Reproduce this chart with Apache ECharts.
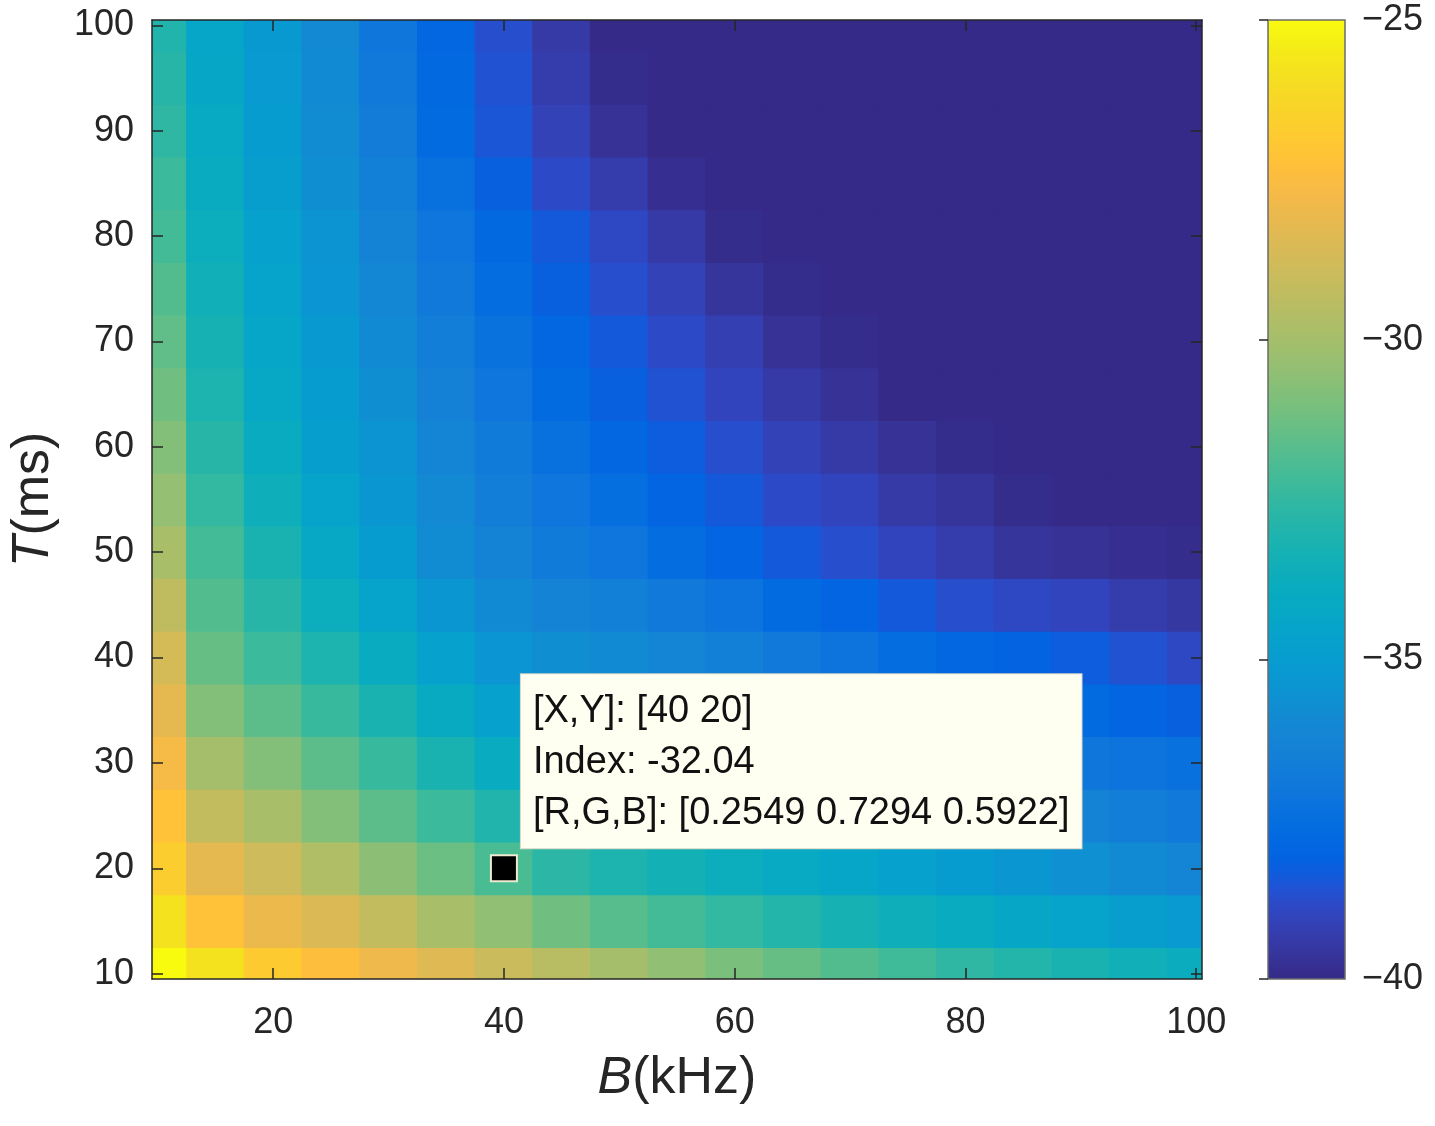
<!DOCTYPE html>
<html>
<head>
<meta charset="utf-8">
<script src="https://cdn.jsdelivr.net/npm/echarts@6.0.0/dist/echarts.min.js"></script>
<style>
  html, body { margin: 0; padding: 0; background: #fff; }
  #chart { width: 1435px; height: 1126px; }
</style>
</head>
<body>
<div id="chart"></div>
<script>
var FONT = '"Liberation Sans", Arial, Helvetica, sans-serif';
var INK = '#262626';

// cell centres, B in kHz (columns) and T in ms (rows), cells are 5 x 5
var bValues = [10, 15, 20, 25, 30, 35, 40, 45, 50, 55, 60, 65, 70, 75, 80, 85, 90, 95, 100];
var tValues = [10, 15, 20, 25, 30, 35, 40, 45, 50, 55, 60, 65, 70, 75, 80, 85, 90, 95, 100];
var STEP = 5;
// image extent runs half a pixel past the first and last sample
var axisRange = [9.5, 100.5];

// index, one row per T, B left to right
var indexRows = [
  [-25.0, -25.8, -26.8, -27.4, -27.9, -28.4, -29.0, -29.5, -30.0, -30.5, -31.0, -31.4, -31.8, -32.2, -32.6, -32.9, -33.2, -33.5, -33.8],
  [-25.8, -27.2, -28.0, -28.5, -29.2, -29.9, -30.5, -31.2, -31.7, -32.1, -32.5, -32.9, -33.3, -33.6, -33.9, -34.3, -34.6, -34.9, -35.1],
  [-26.7, -28.2, -28.9, -29.7, -30.6, -31.3, -32.0, -32.7, -33.1, -33.4, -33.7, -34.1, -34.4, -34.7, -35.0, -35.3, -35.6, -35.9, -36.2],
  [-27.2, -29.2, -29.9, -30.8, -31.6, -32.3, -33.0, -33.6, -33.9, -34.2, -34.5, -34.8, -35.1, -35.4, -35.7, -36.0, -36.3, -36.6, -36.9],
  [-27.7, -30.0, -30.8, -31.6, -32.4, -33.2, -33.9, -34.4, -34.6, -34.9, -35.2, -35.5, -35.8, -36.1, -36.4, -36.7, -37.0, -37.2, -37.4],
  [-28.2, -30.8, -31.6, -32.4, -33.2, -34.0, -34.7, -35.1, -35.3, -35.6, -35.9, -36.3, -36.6, -36.9, -37.2, -37.5, -37.7, -38.0, -38.2],
  [-28.7, -31.4, -32.3, -33.1, -33.9, -34.7, -35.4, -35.7, -35.9, -36.2, -36.5, -36.9, -37.2, -37.6, -37.9, -38.1, -38.3, -38.6, -38.9],
  [-29.3, -31.8, -32.8, -33.7, -34.5, -35.3, -35.9, -36.3, -36.5, -36.9, -37.2, -37.7, -38.0, -38.4, -38.7, -38.9, -39.0, -39.3, -39.5],
  [-29.9, -32.1, -33.2, -34.2, -35.0, -35.8, -36.3, -36.8, -37.1, -37.6, -38.0, -38.4, -38.7, -39.0, -39.3, -39.6, -39.7, -39.8, -39.9],
  [-30.4, -32.5, -33.6, -34.5, -35.3, -36.0, -36.6, -37.1, -37.5, -38.0, -38.4, -38.8, -39.0, -39.4, -39.6, -39.9, -40.0, -40.0, -40.0],
  [-30.8, -32.8, -33.9, -34.8, -35.5, -36.2, -36.8, -37.4, -37.9, -38.3, -38.7, -39.1, -39.4, -39.7, -39.9, -40.0, -40.0, -40.0, -40.0],
  [-31.2, -33.1, -34.2, -35.0, -35.7, -36.4, -37.1, -37.7, -38.2, -38.6, -39.0, -39.4, -39.7, -40.0, -40.0, -40.0, -40.0, -40.0, -40.0],
  [-31.5, -33.3, -34.4, -35.2, -35.9, -36.6, -37.3, -37.9, -38.4, -38.8, -39.2, -39.7, -39.9, -40.0, -40.0, -40.0, -40.0, -40.0, -40.0],
  [-31.8, -33.5, -34.6, -35.4, -36.1, -36.9, -37.6, -38.2, -38.7, -39.1, -39.6, -39.9, -40.0, -40.0, -40.0, -40.0, -40.0, -40.0, -40.0],
  [-32.1, -33.7, -34.7, -35.5, -36.3, -37.1, -37.8, -38.4, -38.9, -39.4, -39.9, -40.0, -40.0, -40.0, -40.0, -40.0, -40.0, -40.0, -40.0],
  [-32.3, -33.9, -34.9, -35.7, -36.5, -37.4, -38.2, -38.8, -39.3, -39.8, -40.0, -40.0, -40.0, -40.0, -40.0, -40.0, -40.0, -40.0, -40.0],
  [-32.6, -34.1, -35.0, -35.8, -36.7, -37.7, -38.5, -39.1, -39.7, -40.0, -40.0, -40.0, -40.0, -40.0, -40.0, -40.0, -40.0, -40.0, -40.0],
  [-32.8, -34.3, -35.1, -35.9, -36.9, -37.8, -38.6, -39.3, -39.9, -40.0, -40.0, -40.0, -40.0, -40.0, -40.0, -40.0, -40.0, -40.0, -40.0],
  [-33.0, -34.4, -35.2, -36.0, -37.0, -37.9, -38.7, -39.4, -40.0, -40.0, -40.0, -40.0, -40.0, -40.0, -40.0, -40.0, -40.0, -40.0, -40.0]
];

var xTicks = [20, 40, 60, 80, 100];
var yTicks = [10, 20, 30, 40, 50, 60, 70, 80, 90, 100];
var barTicks = [-40, -35, -30, -25];
var barRange = [-40, -25];

// data tip
var tipPoint = [40, 20];
var tipIndex = -32.04;
var tipRGB = [0.2549, 0.7294, 0.5922];

// parula, 64 entries
var parula = [
  [0.2081,0.1663,0.5292],[0.2116,0.1898,0.5777],[0.2123,0.2138,0.6270],[0.2081,0.2386,0.6771],
  [0.1959,0.2645,0.7279],[0.1707,0.2919,0.7792],[0.1253,0.3242,0.8303],[0.0591,0.3598,0.8683],
  [0.0117,0.3875,0.8820],[0.0060,0.4086,0.8828],[0.0165,0.4266,0.8786],[0.0329,0.4430,0.8720],
  [0.0498,0.4586,0.8641],[0.0629,0.4737,0.8554],[0.0723,0.4887,0.8467],[0.0779,0.5040,0.8384],
  [0.0793,0.5200,0.8312],[0.0749,0.5375,0.8263],[0.0641,0.5570,0.8240],[0.0488,0.5772,0.8228],
  [0.0343,0.5966,0.8199],[0.0265,0.6137,0.8135],[0.0239,0.6287,0.8038],[0.0231,0.6418,0.7913],
  [0.0228,0.6535,0.7768],[0.0267,0.6642,0.7607],[0.0384,0.6743,0.7436],[0.0590,0.6838,0.7254],
  [0.0843,0.6928,0.7062],[0.1133,0.7015,0.6859],[0.1453,0.7098,0.6646],[0.1801,0.7177,0.6424],
  [0.2178,0.7250,0.6193],[0.2586,0.7317,0.5954],[0.3022,0.7376,0.5712],[0.3482,0.7424,0.5473],
  [0.3953,0.7459,0.5244],[0.4420,0.7481,0.5033],[0.4871,0.7491,0.4840],[0.5300,0.7491,0.4661],
  [0.5709,0.7485,0.4494],[0.6099,0.7473,0.4337],[0.6473,0.7456,0.4188],[0.6834,0.7435,0.4044],
  [0.7184,0.7411,0.3905],[0.7525,0.7384,0.3768],[0.7858,0.7356,0.3633],[0.8185,0.7327,0.3498],
  [0.8507,0.7299,0.3360],[0.8824,0.7274,0.3217],[0.9139,0.7258,0.3063],[0.9450,0.7261,0.2886],
  [0.9739,0.7314,0.2666],[0.9938,0.7455,0.2403],[0.9990,0.7653,0.2164],[0.9955,0.7861,0.1967],
  [0.9880,0.8066,0.1794],[0.9789,0.8271,0.1633],[0.9697,0.8481,0.1475],[0.9626,0.8705,0.1309],
  [0.9589,0.8949,0.1132],[0.9598,0.9218,0.0948],[0.9661,0.9514,0.0755],[0.9763,0.9831,0.0538]
];
var parulaHex = parula.map(function (c) {
  return 'rgb(' + c.map(function (v) { return Math.round(v * 255); }).join(',') + ')';
});

var heatData = [];
tValues.forEach(function (t, i) {
  bValues.forEach(function (b, j) {
    heatData.push([b, t, indexRows[i][j]]);
  });
});

function renderCell(params, api) {
  var b = api.value(0), t = api.value(1);
  var p0 = api.coord([b - STEP / 2, t + STEP / 2]);
  var p1 = api.coord([b + STEP / 2, t - STEP / 2]);
  var cs = params.coordSys;
  var shape = echarts.graphic.clipRectByRect({
    x: p0[0] - 0.5, y: p0[1] - 0.5,
    width: p1[0] - p0[0] + 1, height: p1[1] - p0[1] + 1
  }, { x: cs.x, y: cs.y, width: cs.width, height: cs.height });
  if (!shape) return;
  return { type: 'rect', shape: shape, style: { fill: api.visual('color') } };
}

// colour bar: one rect spanning the colour range
function renderBar(params, api) {
  var top = api.coord([0, api.value(2)]);
  var bot = api.coord([1, api.value(1)]);
  return {
    type: 'rect',
    shape: { x: top[0], y: top[1], width: bot[0] - top[0], height: bot[1] - top[1] },
    style: {
      fill: {
        type: 'linear', x: 0, y: 1, x2: 0, y2: 0,
        colorStops: parulaHex.map(function (c, i) { return { offset: i / (parulaHex.length - 1), color: c }; })
      },
      stroke: '#6b6b6b',
      lineWidth: 1.5
    }
  };
}

var lineStyle = { color: INK, width: 1.5 };
var labelFont = { color: INK, fontFamily: FONT, fontSize: 36 };
var nameFont = {
  color: INK, fontFamily: FONT, fontSize: 52,
  rich: { it: { color: INK, fontFamily: FONT, fontSize: 52, fontStyle: 'italic' } }
};
function minusSign(v) { return String(v).replace('-', '\u2212'); }

var chart = echarts.init(document.getElementById('chart'), null, { renderer: 'canvas' });
chart.setOption({
  backgroundColor: '#ffffff',
  animation: false,
  grid: [
    { left: 148, top: 20, width: 1054, height: 959 },
    { left: 1268, top: 20, width: 77, height: 959 }
  ],
  xAxis: [
    {
      type: 'value', gridIndex: 0, min: axisRange[0], max: axisRange[1], position: 'bottom', z: 10,
      axisLine: { show: true, lineStyle: lineStyle },
      axisTick: { show: true, inside: true, length: 11, lineStyle: lineStyle, customValues: xTicks },
      axisLabel: Object.assign({ margin: 26, customValues: xTicks }, labelFont),
      splitLine: { show: false },
      name: '{it|B}(kHz)', nameLocation: 'middle', nameGap: 74, nameTextStyle: nameFont
    },
    {
      type: 'value', gridIndex: 0, min: axisRange[0], max: axisRange[1], position: 'top', z: 10,
      axisLine: { show: true, lineStyle: lineStyle },
      axisTick: { show: true, inside: true, length: 11, lineStyle: lineStyle, customValues: xTicks },
      axisLabel: { show: false },
      splitLine: { show: false }
    },
    { type: 'value', gridIndex: 1, min: 0, max: 1, show: false }
  ],
  yAxis: [
    {
      type: 'value', gridIndex: 0, min: axisRange[0], max: axisRange[1], position: 'left', z: 10,
      axisLine: { show: true, lineStyle: lineStyle },
      axisTick: { show: true, inside: true, length: 11, lineStyle: lineStyle, customValues: yTicks },
      axisLabel: Object.assign({ margin: 18, customValues: yTicks }, labelFont),
      splitLine: { show: false },
      name: '{it|T}(ms)', nameLocation: 'middle', nameGap: 92, nameTextStyle: nameFont
    },
    {
      type: 'value', gridIndex: 0, min: axisRange[0], max: axisRange[1], position: 'right', z: 10,
      axisLine: { show: true, lineStyle: lineStyle },
      axisTick: { show: true, inside: true, length: 11, lineStyle: lineStyle, customValues: yTicks },
      axisLabel: { show: false },
      splitLine: { show: false }
    },
    {
      type: 'value', gridIndex: 1, min: barRange[0], max: barRange[1], position: 'right', z: 10,
      axisLine: { show: false },
      axisTick: { show: true, inside: true, length: 9, lineStyle: lineStyle, customValues: barTicks },
      axisLabel: Object.assign({ margin: 17, customValues: barTicks, formatter: minusSign }, labelFont),
      splitLine: { show: false }
    }
  ],
  visualMap: {
    type: 'continuous', show: false, seriesIndex: 0, dimension: 2,
    min: barRange[0], max: barRange[1],
    inRange: { color: parulaHex }
  },
  series: [
    {
      type: 'custom', name: 'Index', xAxisIndex: 0, yAxisIndex: 0,
      renderItem: renderCell, encode: { x: 0, y: 1 }, data: heatData, silent: true
    },
    {
      type: 'custom', name: 'colorbar', xAxisIndex: 2, yAxisIndex: 2,
      renderItem: renderBar, encode: { x: 0, y: 1 }, data: [[0, barRange[0], barRange[1]]], silent: true
    },
    {
      type: 'scatter', name: 'datatip', xAxisIndex: 0, yAxisIndex: 0, z: 20, silent: true,
      data: [tipPoint],
      symbol: 'rect', symbolSize: 26,
      itemStyle: { color: '#000000', borderColor: '#efe9cf', borderWidth: 2, opacity: 1 },
      label: {
        show: true, position: [31, -180], align: 'left', verticalAlign: 'top',
        formatter: '[X,Y]: [' + tipPoint[0] + ' ' + tipPoint[1] + ']\n' +
                   'Index: ' + tipIndex.toFixed(2) + '\n' +
                   '[R,G,B]: [' + tipRGB.map(function (v) { return v.toFixed(4); }).join(' ') + ']',
        fontFamily: FONT, fontSize: 38, lineHeight: 51, color: '#111111', opacity: 1,
        backgroundColor: '#fefef1', borderColor: '#d6d6c6', borderWidth: 1,
        padding: [12, 12, 9, 12]
      }
    }
  ]
});
</script>
</body>
</html>
